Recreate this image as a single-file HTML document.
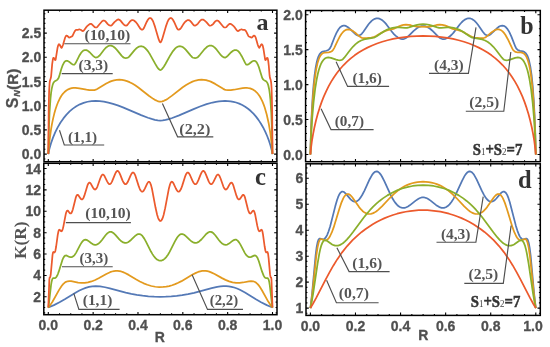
<!DOCTYPE html>
<html><head><meta charset="utf-8"><style>
html,body{margin:0;padding:0;background:#fff;}
svg{display:block;}
.tl{font-family:"Liberation Sans",Arial,sans-serif;font-weight:bold;font-size:14px;fill:#505050;stroke:#505050;stroke-width:0.3px;}
.yl{font-size:15px;}
.subs{font-size:9px;font-style:italic;}
.cl{font-family:"Liberation Serif","Times New Roman",serif;font-weight:bold;font-size:13.6px;fill:#555;}
.pl{font-family:"Liberation Serif","Times New Roman",serif;font-weight:bold;font-size:24px;fill:#333;}
.ss{font-family:"Liberation Serif","Times New Roman",serif;font-weight:bold;font-size:16.5px;fill:#333;stroke:#333;stroke-width:0.5px;}
.sub{font-size:10px;font-weight:normal;stroke:none;fill:#444;}
.kl{font-family:"Liberation Serif","Times New Roman",serif;font-weight:bold;font-size:16px;fill:#555;}
</style></head><body>
<svg width="550" height="347" viewBox="0 0 550 347">
<rect width="550" height="347" fill="#fff"/>
<clipPath id="clipa"><rect x="44.0" y="10.2" width="232.89999999999998" height="151.5"/></clipPath>
<polyline clip-path="url(#clipa)" points="48.30,154.10 49.29,149.24 50.95,143.41 53.00,137.61 55.30,132.20 57.81,127.18 60.53,122.54 63.41,118.38 66.49,114.60 69.58,111.43 72.88,108.62 76.32,106.25 79.91,104.32 83.64,102.83 87.52,101.76 91.54,101.13 95.70,100.93 99.72,101.11 103.88,101.64 108.33,102.55 113.00,103.82 117.73,105.39 122.97,107.37 141.13,115.10 147.95,117.75 151.61,118.95 154.84,119.80 157.78,120.35 160.29,120.55 162.66,120.39 165.53,119.90 168.69,119.09 172.21,117.97 179.10,115.34 193.59,109.11 199.98,106.53 206.58,104.20 212.54,102.53 215.84,101.83 219.00,101.33 222.08,101.03 225.03,100.93 227.90,101.02 230.70,101.31 233.42,101.80 236.08,102.48 239.24,103.60 242.25,105.00 245.19,106.70 248.06,108.73 250.79,111.03 253.45,113.66 256.03,116.63 258.47,119.86 260.84,123.45 263.14,127.44 265.22,131.58 267.15,135.99 268.94,140.67 270.48,145.45 271.76,150.27 272.50,154.10" fill="none" stroke="#5479b6" stroke-width="1.75" stroke-linejoin="round"/>
<polyline clip-path="url(#clipa)" points="48.30,154.10 48.68,148.61 49.33,142.01 51.04,129.42 52.04,123.68 53.14,118.36 54.29,113.61 55.58,109.07 56.87,105.23 58.24,101.80 59.67,98.78 61.25,96.06 62.83,93.86 64.55,91.97 66.35,90.48 68.29,89.33 69.94,88.66 71.66,88.21 73.45,87.97 75.46,87.93 79.34,88.32 86.51,89.67 89.31,90.08 92.11,90.24 94.48,90.04 95.77,89.71 97.21,89.05 106.25,83.53 108.91,82.16 111.35,81.14 114.00,80.31 116.66,79.81 119.31,79.66 121.97,79.84 124.48,80.33 126.99,81.09 129.58,82.16 132.30,83.57 135.17,85.32 138.33,87.51 149.17,95.95 153.26,98.84 155.48,100.14 157.49,101.07 159.29,101.60 160.72,101.71 162.23,101.43 163.88,100.83 165.75,99.91 167.83,98.65 171.70,95.89 182.76,87.30 186.13,85.00 189.21,83.17 192.44,81.62 195.60,80.52 198.62,79.87 201.63,79.66 203.86,79.78 206.15,80.16 208.45,80.79 210.75,81.65 215.19,83.90 223.23,88.85 224.74,89.60 225.82,89.94 228.11,90.23 230.84,90.14 233.85,89.74 242.54,88.16 245.19,87.94 247.49,87.99 250.15,88.44 252.51,89.33 254.74,90.69 256.82,92.55 258.26,94.23 259.69,96.28 260.98,98.51 262.27,101.15 263.49,104.08 264.64,107.28 266.72,114.45 268.67,123.21 270.33,133.08 271.69,144.10 272.50,154.10" fill="none" stroke="#e39a1e" stroke-width="1.75" stroke-linejoin="round"/>
<polyline clip-path="url(#clipa)" points="48.30,154.10 48.77,131.82 49.56,112.21 50.54,98.04 51.12,92.70 51.75,88.61 52.65,84.84 53.14,83.51 53.72,82.41 54.79,81.23 56.66,80.18 57.38,79.65 58.02,78.92 58.60,77.95 59.24,76.16 61.32,68.99 62.47,65.71 63.91,62.79 64.63,61.84 65.34,61.19 66.49,60.75 67.71,60.95 69.00,61.68 71.52,63.72 72.52,64.39 73.52,64.74 74.39,64.59 74.89,64.14 75.61,63.03 79.12,56.07 80.99,53.02 81.99,51.78 83.00,50.87 84.00,50.28 85.01,50.01 86.37,50.13 87.88,50.83 89.67,52.26 93.12,55.81 94.41,56.95 95.63,57.60 96.71,57.48 98.21,56.67 99.86,55.22 104.03,49.77 106.18,47.47 108.12,46.13 109.12,45.75 110.05,45.60 111.20,45.68 112.35,46.04 113.57,46.73 114.79,47.69 117.09,50.10 121.54,55.65 123.04,57.13 123.91,57.61 124.84,57.91 125.84,58.03 126.85,57.94 128.14,57.47 129.22,56.60 134.38,50.38 136.82,47.97 138.04,47.11 139.19,46.56 140.34,46.27 141.42,46.24 142.78,46.57 144.22,47.34 145.65,48.54 147.09,50.14 148.52,52.10 150.10,54.59 155.27,63.92 157.13,66.99 158.14,68.36 159.00,69.29 159.79,69.87 160.51,70.04 161.15,69.79 161.94,69.15 163.81,66.77 165.60,63.79 170.34,55.20 173.00,51.08 175.29,48.41 176.44,47.44 177.52,46.79 178.88,46.32 180.24,46.24 181.61,46.56 183.04,47.29 184.41,48.34 185.91,49.82 190.51,55.41 191.94,56.94 192.59,57.43 193.31,57.76 194.17,57.98 195.03,58.03 195.96,57.91 196.82,57.64 197.61,57.23 198.26,56.71 199.76,55.06 204.07,49.68 206.51,47.26 207.52,46.54 208.52,46.01 209.53,45.69 210.46,45.59 211.46,45.69 212.47,46.03 213.47,46.58 214.55,47.40 216.70,49.68 220.94,55.22 222.44,56.56 223.95,57.43 225.10,57.61 226.32,57.00 227.68,55.81 231.20,52.19 233.07,50.74 234.57,50.09 236.01,50.04 237.01,50.38 237.95,50.98 238.88,51.86 239.88,53.12 241.75,56.20 245.12,62.90 245.84,64.04 246.34,64.55 247.20,64.75 248.21,64.43 249.21,63.77 252.08,61.48 253.02,60.98 253.81,60.76 254.67,60.82 255.53,61.24 256.39,62.09 257.18,63.27 258.11,65.19 259.05,67.67 262.13,77.80 262.71,78.82 263.35,79.58 264.07,80.14 266.08,81.29 267.15,82.52 267.73,83.67 268.26,85.21 269.20,89.50 269.81,93.79 270.37,99.28 271.31,113.51 272.05,132.58 272.50,154.10" fill="none" stroke="#8aaf2c" stroke-width="1.75" stroke-linejoin="round"/>
<polyline clip-path="url(#clipa)" points="48.30,154.10 48.75,105.56 49.11,91.41 49.56,83.46 49.94,80.69 50.79,78.06 51.12,76.31 52.18,64.12 52.86,59.30 53.21,58.14 53.43,57.84 53.65,57.77 54.08,58.18 55.08,59.95 55.37,60.08 55.65,59.68 57.45,48.32 58.02,45.87 58.60,44.54 59.03,44.22 59.53,44.48 61.18,47.47 61.47,47.78 61.68,47.76 62.26,46.81 63.05,44.72 65.06,37.76 65.63,36.50 66.13,35.85 66.64,35.61 67.14,35.73 67.64,36.13 68.72,37.36 69.08,37.55 69.79,37.39 71.73,36.56 72.52,35.82 74.03,32.58 74.82,31.17 75.53,30.32 76.32,29.86 77.76,29.84 78.91,29.47 79.70,29.45 80.63,29.80 82.42,31.00 82.78,31.10 83.14,31.00 84.22,30.06 85.87,27.65 86.87,26.46 89.24,24.40 90.18,23.88 91.04,23.87 91.90,24.31 94.70,27.22 95.49,27.48 96.42,27.44 96.99,27.20 97.42,26.80 99.50,24.21 102.09,21.29 103.02,20.64 103.88,20.49 104.67,20.74 105.46,21.33 107.76,24.12 108.40,24.70 109.77,25.51 110.84,25.73 111.85,25.13 114.43,22.16 116.51,20.29 117.52,19.64 118.45,19.46 119.38,19.73 120.32,20.42 122.90,23.64 123.98,24.66 125.20,25.49 126.06,25.71 126.70,25.49 127.35,24.99 129.65,21.95 130.72,20.81 131.73,20.18 132.73,20.03 133.95,20.51 135.75,21.98 137.18,23.77 140.20,28.48 141.27,29.44 141.78,29.67 142.28,29.73 143.07,29.29 143.79,28.31 146.66,21.98 147.88,19.76 149.02,18.42 149.60,18.09 150.10,18.00 150.89,18.24 151.68,18.96 152.47,20.15 153.33,21.95 154.98,26.65 158.64,39.18 159.57,41.48 160.01,42.16 160.36,42.41 160.72,42.23 161.15,41.62 162.09,39.39 165.82,26.65 167.47,21.95 168.26,20.28 169.05,19.04 169.84,18.28 170.63,18.00 171.20,18.09 171.78,18.42 172.92,19.76 174.14,21.98 177.01,28.31 177.66,29.22 178.45,29.72 178.88,29.71 179.38,29.52 180.39,28.72 181.18,27.69 183.55,23.88 184.62,22.45 186.49,20.76 187.78,20.08 188.86,20.11 189.93,20.69 191.08,21.86 193.52,25.06 194.17,25.53 194.81,25.71 195.75,25.41 197.04,24.48 197.97,23.55 200.34,20.56 201.20,19.85 201.99,19.51 203.07,19.56 204.14,20.17 206.37,22.16 208.95,25.13 209.53,25.56 210.03,25.74 211.03,25.51 212.25,24.81 213.04,24.12 214.62,22.10 215.48,21.20 216.34,20.64 217.20,20.49 217.99,20.75 218.85,21.42 223.30,26.72 224.09,27.35 225.10,27.50 226.03,27.26 226.53,26.86 228.11,25.03 228.90,24.31 229.76,23.87 230.62,23.88 231.56,24.40 233.93,26.46 234.93,27.65 236.58,30.06 237.66,31.00 238.02,31.10 238.38,31.00 240.17,29.80 241.10,29.45 241.89,29.47 243.04,29.84 244.48,29.86 245.27,30.32 245.98,31.17 246.77,32.58 248.21,35.69 248.50,36.11 249.00,36.52 251.01,37.39 251.72,37.55 252.08,37.36 253.16,36.13 253.73,35.69 254.31,35.64 254.81,36.00 255.31,36.77 255.82,37.95 257.75,44.72 258.47,46.65 259.05,47.70 259.26,47.81 259.62,47.47 260.84,45.10 261.34,44.41 261.84,44.24 262.35,44.77 262.85,46.11 263.42,48.70 265.15,59.68 265.36,60.04 265.65,60.02 266.80,58.07 267.08,57.80 267.30,57.79 267.59,58.14 267.80,58.73 268.24,60.96 268.76,65.50 269.63,75.97 269.97,77.89 270.71,80.07 271.02,81.56 271.33,84.52 271.58,88.70 271.89,98.11 272.16,112.58 272.50,154.10" fill="none" stroke="#ec5a2d" stroke-width="1.75" stroke-linejoin="round"/>
<rect x="44.0" y="10.2" width="232.90" height="151.50" fill="none" stroke="#000" stroke-width="1.5"/>
<path d="M48.30,161.7v-2.8M48.30,10.2v2.8M59.51,161.7v-1.4M59.51,10.2v1.4M70.72,161.7v-1.4M70.72,10.2v1.4M81.93,161.7v-1.4M81.93,10.2v1.4M93.14,161.7v-2.8M93.14,10.2v2.8M104.35,161.7v-1.4M104.35,10.2v1.4M115.56,161.7v-1.4M115.56,10.2v1.4M126.77,161.7v-1.4M126.77,10.2v1.4M137.98,161.7v-2.8M137.98,10.2v2.8M149.19,161.7v-1.4M149.19,10.2v1.4M160.40,161.7v-1.4M160.40,10.2v1.4M171.61,161.7v-1.4M171.61,10.2v1.4M182.82,161.7v-2.8M182.82,10.2v2.8M194.03,161.7v-1.4M194.03,10.2v1.4M205.24,161.7v-1.4M205.24,10.2v1.4M216.45,161.7v-1.4M216.45,10.2v1.4M227.66,161.7v-2.8M227.66,10.2v2.8M238.87,161.7v-1.4M238.87,10.2v1.4M250.08,161.7v-1.4M250.08,10.2v1.4M261.29,161.7v-1.4M261.29,10.2v1.4M272.50,161.7v-2.8M272.50,10.2v2.8M44.0,158.94h1.4M276.9,158.94h-1.4M44.0,154.10h2.8M276.9,154.10h-2.8M44.0,149.26h1.4M276.9,149.26h-1.4M44.0,144.42h1.4M276.9,144.42h-1.4M44.0,139.58h1.4M276.9,139.58h-1.4M44.0,134.74h1.4M276.9,134.74h-1.4M44.0,129.90h2.8M276.9,129.90h-2.8M44.0,125.06h1.4M276.9,125.06h-1.4M44.0,120.22h1.4M276.9,120.22h-1.4M44.0,115.38h1.4M276.9,115.38h-1.4M44.0,110.54h1.4M276.9,110.54h-1.4M44.0,105.70h2.8M276.9,105.70h-2.8M44.0,100.86h1.4M276.9,100.86h-1.4M44.0,96.02h1.4M276.9,96.02h-1.4M44.0,91.18h1.4M276.9,91.18h-1.4M44.0,86.34h1.4M276.9,86.34h-1.4M44.0,81.50h2.8M276.9,81.50h-2.8M44.0,76.66h1.4M276.9,76.66h-1.4M44.0,71.82h1.4M276.9,71.82h-1.4M44.0,66.98h1.4M276.9,66.98h-1.4M44.0,62.14h1.4M276.9,62.14h-1.4M44.0,57.30h2.8M276.9,57.30h-2.8M44.0,52.46h1.4M276.9,52.46h-1.4M44.0,47.62h1.4M276.9,47.62h-1.4M44.0,42.78h1.4M276.9,42.78h-1.4M44.0,37.94h1.4M276.9,37.94h-1.4M44.0,33.10h2.8M276.9,33.10h-2.8M44.0,28.26h1.4M276.9,28.26h-1.4M44.0,23.42h1.4M276.9,23.42h-1.4M44.0,18.58h1.4M276.9,18.58h-1.4M44.0,13.74h1.4M276.9,13.74h-1.4" stroke="#000" stroke-width="1.1" fill="none"/>
<text x="41.20" y="159.10" class="tl" text-anchor="end">0.0</text>
<text x="41.20" y="134.90" class="tl" text-anchor="end">0.5</text>
<text x="41.20" y="110.70" class="tl" text-anchor="end">1.0</text>
<text x="41.20" y="86.50" class="tl" text-anchor="end">1.5</text>
<text x="41.20" y="62.30" class="tl" text-anchor="end">2.0</text>
<text x="41.20" y="38.10" class="tl" text-anchor="end">2.5</text>
<clipPath id="clipb"><rect x="305.6" y="10.5" width="234.69999999999993" height="151.2"/></clipPath>
<polyline clip-path="url(#clipb)" points="310.40,154.50 310.74,139.20 311.28,123.27 311.96,108.55 312.72,95.84 313.58,84.94 314.55,75.60 315.63,67.90 316.78,62.03 317.65,58.82 318.52,56.40 319.53,54.38 320.61,52.94 321.62,52.09 322.70,51.54 326.38,50.74 327.75,50.23 328.98,49.39 330.06,48.13 331.07,46.11 334.53,37.25 336.48,32.88 338.57,29.28 339.58,27.98 340.59,26.97 341.97,26.06 343.34,25.64 344.71,25.67 346.22,26.16 347.59,26.96 349.11,28.13 354.09,32.95 355.89,34.49 357.62,35.46 358.27,35.61 358.99,35.54 360.58,34.81 361.95,33.56 363.39,31.68 368.37,24.55 370.03,22.53 371.62,20.92 373.21,19.67 374.79,18.82 376.38,18.38 377.97,18.35 379.27,18.64 380.57,19.19 381.94,20.03 383.31,21.14 384.90,22.70 386.63,24.68 392.33,32.24 394.13,34.35 395.79,35.84 397.59,37.17 399.33,38.19 400.99,38.87 402.21,39.14 403.22,39.12 404.52,38.76 405.96,38.07 407.91,36.62 413.68,30.88 416.79,28.31 418.45,27.28 420.03,26.56 421.62,26.14 423.14,26.00 424.51,26.12 425.88,26.46 427.32,27.06 428.76,27.87 430.35,29.01 432.08,30.48 437.49,35.87 439.23,37.41 440.38,38.15 441.61,38.73 442.76,39.08 443.77,39.16 445.50,38.78 447.45,37.88 449.62,36.46 451.64,34.77 453.58,32.61 459.93,24.25 461.74,22.24 463.40,20.70 464.84,19.64 466.21,18.91 467.58,18.46 468.95,18.31 470.40,18.49 471.91,19.04 473.35,19.92 474.87,21.18 476.38,22.77 477.97,24.74 482.81,31.68 484.25,33.56 485.62,34.81 487.21,35.54 487.93,35.61 488.58,35.46 490.31,34.49 492.11,32.95 496.95,28.26 498.39,27.11 499.69,26.30 501.06,25.77 502.36,25.60 503.59,25.80 504.81,26.38 505.97,27.30 507.12,28.59 508.20,30.15 509.36,32.17 511.52,36.89 515.27,46.45 515.85,47.66 516.43,48.53 517.51,49.63 518.81,50.40 520.04,50.80 522.99,51.38 524.51,52.04 525.95,53.35 527.25,55.45 528.12,57.52 528.91,60.05 530.35,66.64 531.63,75.42 532.76,86.48 533.77,100.30 534.65,116.87 535.37,136.14 535.80,154.50" fill="none" stroke="#5479b6" stroke-width="1.75" stroke-linejoin="round"/>
<polyline clip-path="url(#clipb)" points="310.40,154.50 310.76,140.07 311.39,123.69 312.16,109.07 313.06,96.02 314.03,85.28 315.12,76.07 316.35,68.45 317.65,62.68 318.59,59.63 319.67,57.03 320.82,55.09 322.12,53.70 323.21,53.01 324.50,52.58 328.76,52.30 330.35,51.98 331.79,51.26 332.95,50.18 334.17,48.11 337.71,40.54 339.51,37.05 341.39,34.03 343.26,31.76 344.85,30.43 346.44,29.64 348.10,29.34 349.83,29.57 351.49,30.21 353.37,31.35 355.17,32.75 359.35,36.34 361.23,37.62 362.10,37.93 363.32,38.13 366.50,38.10 371.33,37.53 374.43,36.81 376.02,36.03 381.29,32.84 384.39,31.34 387.64,30.25 393.55,28.88 399.69,26.05 401.63,25.37 403.44,24.94 405.96,24.68 408.63,24.83 410.80,25.23 415.42,26.49 416.93,26.74 428.04,26.79 430.28,26.60 436.63,24.98 439.88,24.68 442.26,24.86 444.71,25.42 447.38,26.41 452.57,28.86 458.27,30.17 461.16,31.08 464.55,32.64 470.32,36.11 471.91,36.86 474.80,37.52 479.27,38.06 482.52,38.16 483.74,38.01 484.68,37.75 486.41,36.67 491.75,32.17 494.42,30.36 495.87,29.72 497.24,29.39 498.53,29.37 499.83,29.66 501.20,30.34 502.58,31.41 503.95,32.89 505.32,34.77 507.84,39.23 512.32,48.68 512.97,49.80 513.69,50.66 514.91,51.57 516.36,52.12 517.73,52.33 520.97,52.47 522.56,52.83 524.08,53.70 525.38,55.09 526.46,56.88 527.40,59.04 528.33,61.91 529.20,65.32 529.99,69.23 530.79,74.06 532.13,84.85 533.37,98.96 534.43,115.87 535.28,135.40 535.80,154.50" fill="none" stroke="#e39a1e" stroke-width="1.75" stroke-linejoin="round"/>
<polyline clip-path="url(#clipb)" points="310.40,154.50 311.08,136.72 312.18,118.50 313.53,102.62 315.12,89.07 316.86,78.45 317.79,74.02 318.80,70.09 319.89,66.68 320.97,63.97 322.12,61.74 323.42,59.91 324.58,58.78 325.73,58.03 326.96,57.59 328.33,57.43 329.55,57.52 331.00,57.83 336.12,59.62 338.21,60.16 340.23,60.26 341.97,59.81 342.90,59.19 344.27,57.72 349.97,50.23 352.86,46.81 355.60,44.12 358.34,42.03 361.09,40.51 363.97,39.45 366.79,38.82 372.56,37.98 374.79,37.34 376.67,36.26 384.10,31.23 386.70,29.82 389.22,28.76 392.47,27.85 395.86,27.44 399.11,27.45 405.10,27.90 407.05,27.85 408.92,27.40 414.33,25.60 417.22,24.80 420.18,24.27 423.06,24.09 425.95,24.26 428.98,24.80 431.87,25.60 437.28,27.40 439.15,27.85 441.10,27.90 447.09,27.45 450.34,27.44 453.73,27.85 456.98,28.76 459.50,29.82 462.10,31.23 469.53,36.26 471.41,37.34 473.64,37.98 479.41,38.82 482.23,39.45 485.11,40.51 487.86,42.03 490.60,44.12 493.34,46.81 496.23,50.23 501.93,57.72 503.30,59.19 504.23,59.81 505.97,60.26 508.06,60.14 510.08,59.62 515.13,57.85 516.57,57.53 517.80,57.43 519.17,57.57 520.40,58.00 521.62,58.78 522.71,59.83 524.00,61.62 525.16,63.82 526.31,66.68 527.40,70.09 528.41,74.02 529.34,78.45 531.08,89.07 532.67,102.62 534.02,118.50 535.12,136.72 535.80,154.50" fill="none" stroke="#8aaf2c" stroke-width="1.75" stroke-linejoin="round"/>
<polyline clip-path="url(#clipb)" points="310.40,154.50 310.94,148.52 311.87,141.45 313.04,134.31 314.43,127.23 315.99,120.51 317.72,114.03 319.60,107.90 321.69,101.89 323.85,96.39 326.24,91.03 328.69,86.13 331.36,81.37 334.17,76.91 337.13,72.74 340.31,68.75 343.62,65.04 347.09,61.60 350.77,58.36 354.66,55.33 358.70,52.56 362.96,49.98 367.43,47.62 372.12,45.47 377.03,43.53 382.23,41.77 387.57,40.26 393.12,38.96 398.82,37.90 404.74,37.05 410.80,36.45 416.93,36.08 423.06,35.96 429.20,36.08 435.33,36.44 441.39,37.05 447.31,37.89 453.08,38.96 458.63,40.26 463.97,41.77 469.17,43.53 474.08,45.47 478.77,47.62 483.24,49.98 487.50,52.56 491.54,55.33 495.43,58.36 499.11,61.60 502.58,65.04 505.89,68.75 509.07,72.74 512.03,76.91 514.84,81.37 517.51,86.13 519.96,91.03 522.35,96.39 524.51,101.89 526.60,107.90 528.48,114.03 530.21,120.51 531.77,127.23 533.16,134.31 534.33,141.45 535.26,148.52 535.80,154.50" fill="none" stroke="#ec5a2d" stroke-width="1.75" stroke-linejoin="round"/>
<rect x="305.6" y="10.5" width="234.70" height="151.20" fill="none" stroke="#000" stroke-width="1.5"/>
<path d="M310.40,161.7v-2.8M310.40,10.5v2.8M321.67,161.7v-1.4M321.67,10.5v1.4M332.94,161.7v-1.4M332.94,10.5v1.4M344.21,161.7v-1.4M344.21,10.5v1.4M355.48,161.7v-2.8M355.48,10.5v2.8M366.75,161.7v-1.4M366.75,10.5v1.4M378.02,161.7v-1.4M378.02,10.5v1.4M389.29,161.7v-1.4M389.29,10.5v1.4M400.56,161.7v-2.8M400.56,10.5v2.8M411.83,161.7v-1.4M411.83,10.5v1.4M423.10,161.7v-1.4M423.10,10.5v1.4M434.37,161.7v-1.4M434.37,10.5v1.4M445.64,161.7v-2.8M445.64,10.5v2.8M456.91,161.7v-1.4M456.91,10.5v1.4M468.18,161.7v-1.4M468.18,10.5v1.4M479.45,161.7v-1.4M479.45,10.5v1.4M490.72,161.7v-2.8M490.72,10.5v2.8M501.99,161.7v-1.4M501.99,10.5v1.4M513.26,161.7v-1.4M513.26,10.5v1.4M524.53,161.7v-1.4M524.53,10.5v1.4M535.80,161.7v-2.8M535.80,10.5v2.8M305.6,154.50h2.8M540.3,154.50h-2.8M305.6,147.51h1.4M540.3,147.51h-1.4M305.6,140.52h1.4M540.3,140.52h-1.4M305.6,133.53h1.4M540.3,133.53h-1.4M305.6,126.54h1.4M540.3,126.54h-1.4M305.6,119.55h2.8M540.3,119.55h-2.8M305.6,112.56h1.4M540.3,112.56h-1.4M305.6,105.57h1.4M540.3,105.57h-1.4M305.6,98.58h1.4M540.3,98.58h-1.4M305.6,91.59h1.4M540.3,91.59h-1.4M305.6,84.60h2.8M540.3,84.60h-2.8M305.6,77.61h1.4M540.3,77.61h-1.4M305.6,70.62h1.4M540.3,70.62h-1.4M305.6,63.63h1.4M540.3,63.63h-1.4M305.6,56.64h1.4M540.3,56.64h-1.4M305.6,49.65h2.8M540.3,49.65h-2.8M305.6,42.66h1.4M540.3,42.66h-1.4M305.6,35.67h1.4M540.3,35.67h-1.4M305.6,28.68h1.4M540.3,28.68h-1.4M305.6,21.69h1.4M540.3,21.69h-1.4M305.6,14.70h2.8M540.3,14.70h-2.8" stroke="#000" stroke-width="1.1" fill="none"/>
<text x="302.80" y="159.50" class="tl" text-anchor="end">0.0</text>
<text x="302.80" y="124.55" class="tl" text-anchor="end">0.5</text>
<text x="302.80" y="89.60" class="tl" text-anchor="end">1.0</text>
<text x="302.80" y="54.65" class="tl" text-anchor="end">1.5</text>
<text x="302.80" y="19.70" class="tl" text-anchor="end">2.0</text>
<clipPath id="clipc"><rect x="43.8" y="163.3" width="233.2" height="151.39999999999998"/></clipPath>
<polyline clip-path="url(#clipc)" points="48.30,307.51 53.93,305.14 59.53,302.33 64.77,299.34 76.32,292.26 79.41,290.56 82.21,289.19 85.65,287.82 88.96,286.88 92.26,286.32 95.70,286.13 100.08,286.40 105.10,287.26 109.84,288.39 125.70,292.62 131.30,293.87 136.75,294.88 142.57,295.73 148.38,296.33 154.26,296.69 160.15,296.82 165.75,296.72 171.27,296.42 176.73,295.90 182.18,295.18 188.07,294.16 194.10,292.86 211.68,288.21 217.20,286.95 220.43,286.44 223.38,286.18 226.18,286.15 228.83,286.35 231.49,286.80 234.21,287.52 237.01,288.52 239.88,289.80 244.98,292.55 255.89,299.25 261.05,302.22 266.80,305.11 272.50,307.51" fill="none" stroke="#5479b6" stroke-width="1.75" stroke-linejoin="round"/>
<polyline clip-path="url(#clipc)" points="48.30,307.51 50.39,304.87 52.47,301.74 59.10,289.87 61.61,285.96 63.12,284.13 64.55,282.81 66.06,281.86 67.64,281.30 69.29,281.08 71.16,281.18 78.12,282.52 81.49,282.91 84.72,282.88 87.95,282.42 91.47,281.45 95.20,279.94 98.64,278.20 106.32,273.93 110.05,272.20 112.06,271.52 113.93,271.08 115.80,270.86 117.59,270.86 119.38,271.06 121.18,271.47 123.04,272.09 125.05,272.95 128.71,274.88 136.32,279.47 139.84,281.45 143.64,283.32 147.30,284.78 151.32,285.99 155.27,286.75 159.22,287.08 163.23,286.99 166.25,286.64 169.19,286.06 172.13,285.24 175.15,284.16 178.23,282.82 181.54,281.14 192.16,274.84 195.96,272.85 198.11,271.96 200.20,271.32 202.13,270.96 204.07,270.83 205.72,270.92 207.44,271.19 209.24,271.67 211.10,272.35 214.62,274.01 222.01,278.13 225.46,279.87 229.12,281.38 232.56,282.36 236.08,282.88 239.67,282.89 242.90,282.49 248.85,281.29 251.01,281.08 253.16,281.30 255.03,282.01 256.25,282.81 257.39,283.84 258.54,285.13 259.76,286.77 261.92,290.25 268.24,301.59 270.39,304.84 272.50,307.51" fill="none" stroke="#e39a1e" stroke-width="1.75" stroke-linejoin="round"/>
<polyline clip-path="url(#clipc)" points="48.30,307.51 49.20,301.27 51.01,285.42 51.53,282.15 52.04,279.96 52.47,278.90 52.93,278.32 53.36,278.12 54.72,278.10 55.44,277.85 56.30,277.04 57.09,275.77 57.88,274.02 58.74,271.65 62.33,260.17 63.26,257.97 64.20,256.47 65.06,255.71 65.92,255.48 66.92,255.67 69.43,256.91 70.65,257.24 72.02,257.08 73.31,256.33 74.60,254.98 76.04,252.87 80.20,244.93 81.56,242.62 82.85,240.96 84.07,240.00 85.29,239.64 86.59,239.86 88.02,240.65 91.40,243.31 93.05,244.34 93.98,244.70 94.84,244.87 95.70,244.87 96.56,244.70 98.28,243.83 100.15,242.17 101.80,240.22 105.53,235.25 107.26,233.37 108.91,232.20 109.70,231.92 110.49,231.82 111.27,231.92 112.06,232.19 113.79,233.35 115.37,234.92 119.31,239.40 121.39,241.31 123.19,242.39 124.91,242.84 125.92,242.84 126.92,242.62 128.00,242.19 129.07,241.54 131.01,239.97 135.17,235.90 137.11,234.50 138.04,234.13 138.98,234.00 139.84,234.13 140.70,234.50 141.56,235.12 142.42,235.99 144.29,238.62 146.08,241.85 150.96,251.52 152.47,254.12 153.91,256.25 155.48,258.14 156.99,259.47 158.57,260.36 160.08,260.71 161.66,260.55 163.23,259.86 164.81,258.63 166.46,256.81 167.97,254.68 169.62,251.91 174.93,241.44 176.87,238.04 177.95,236.51 179.02,235.32 180.03,234.54 181.03,234.11 181.75,234.00 182.54,234.08 184.19,234.80 185.84,236.09 189.50,239.70 191.22,241.18 193.09,242.32 194.88,242.84 195.96,242.84 197.04,242.61 198.11,242.14 199.19,241.47 201.42,239.48 205.36,234.99 206.87,233.48 208.52,232.30 209.31,231.97 210.10,231.83 210.89,231.87 211.75,232.13 212.61,232.62 213.47,233.30 215.27,235.25 219.00,240.22 220.65,242.17 222.52,243.83 224.24,244.70 225.74,244.89 227.25,244.55 229.05,243.57 232.42,240.91 233.78,240.05 235.22,239.64 235.94,239.70 236.58,239.92 237.87,240.89 239.24,242.62 240.60,244.93 244.76,252.87 246.13,254.89 247.42,256.27 248.78,257.08 250.15,257.24 251.37,256.91 253.95,255.65 255.10,255.49 255.67,255.68 256.25,256.09 257.39,257.70 258.76,260.97 262.06,271.65 263.64,275.63 264.50,277.04 265.29,277.80 266.08,278.10 267.44,278.12 267.94,278.38 268.37,278.99 268.78,280.04 269.27,282.15 269.79,285.42 271.60,301.27 272.50,307.51" fill="none" stroke="#8aaf2c" stroke-width="1.75" stroke-linejoin="round"/>
<polyline clip-path="url(#clipc)" points="48.30,307.51 49.33,279.60 49.58,277.79 49.73,277.46 50.12,277.20 50.30,276.81 50.77,274.28 52.51,255.09 52.86,253.09 53.14,252.25 53.50,252.00 54.29,252.50 54.65,252.41 55.08,251.67 55.44,250.46 56.16,246.50 57.74,234.83 58.53,230.98 58.88,230.10 59.31,229.72 59.75,229.87 60.75,230.98 61.25,231.28 61.54,231.24 61.83,231.02 62.33,230.16 62.83,228.69 63.41,226.34 65.70,214.35 66.28,212.26 66.78,211.11 67.28,210.60 67.86,210.69 68.36,211.20 69.65,212.97 70.30,213.48 70.94,213.42 71.52,212.81 72.16,211.47 72.88,209.24 75.75,197.69 76.47,195.84 77.11,194.95 77.69,194.78 78.33,195.18 80.49,198.45 81.28,199.29 81.71,199.48 82.07,199.47 82.85,198.89 83.57,197.68 84.36,195.69 87.45,185.45 88.17,183.82 88.81,182.93 89.17,182.69 89.53,182.64 90.25,183.03 91.04,184.07 92.90,187.52 93.76,188.79 94.70,189.50 95.13,189.54 95.56,189.38 96.49,188.38 97.42,186.54 100.22,178.53 101.16,176.29 102.09,174.89 102.52,174.59 102.95,174.52 103.74,174.96 104.53,176.03 107.11,181.42 108.12,183.11 109.12,184.05 109.62,184.18 110.05,184.10 110.99,183.33 111.99,181.67 114.94,174.32 115.87,172.37 116.73,171.22 117.16,170.94 117.52,170.87 117.95,170.98 118.45,171.38 119.38,172.78 120.32,174.85 122.47,180.35 123.62,182.65 124.70,183.92 125.27,184.18 125.77,184.16 126.70,183.53 127.71,182.06 130.65,175.41 131.59,173.67 132.52,172.66 133.02,172.50 133.45,172.61 133.88,172.94 134.38,173.59 135.39,175.71 138.55,185.63 139.62,188.54 140.63,190.49 141.56,191.48 142.14,191.68 142.71,191.56 143.28,191.13 143.86,190.43 144.86,188.66 147.16,183.64 148.16,182.13 148.67,181.77 149.17,181.76 149.67,182.12 150.10,182.75 151.03,185.13 152.04,189.09 155.56,207.80 157.13,214.79 158.00,217.60 158.86,219.59 159.72,220.73 160.15,220.97 160.51,221.00 161.30,220.53 162.09,219.32 162.88,217.40 163.67,214.79 165.17,208.16 168.90,188.45 169.98,184.46 170.56,183.02 171.06,182.20 171.49,181.82 171.92,181.72 172.35,181.89 172.78,182.29 173.71,183.78 175.87,188.51 176.87,190.33 177.44,191.06 177.95,191.48 178.45,191.67 178.95,191.62 179.45,191.33 180.03,190.70 181.11,188.71 182.25,185.63 185.27,176.09 186.20,173.96 187.06,172.80 187.49,172.55 187.99,172.53 188.50,172.81 189.00,173.36 190.08,175.26 192.30,180.46 193.31,182.44 194.38,183.81 194.96,184.14 195.46,184.19 195.89,184.05 196.39,183.68 197.32,182.41 198.40,180.18 200.48,174.85 201.42,172.78 202.35,171.38 202.85,170.98 203.28,170.87 203.64,170.94 204.07,171.22 204.93,172.37 205.86,174.32 208.81,181.67 209.81,183.33 210.75,184.10 211.18,184.18 211.68,184.05 212.68,183.11 213.69,181.42 216.27,176.03 217.06,174.96 217.85,174.52 218.28,174.59 218.71,174.89 219.64,176.29 220.58,178.53 223.38,186.54 224.31,188.38 225.24,189.38 225.60,189.53 226.03,189.52 226.82,189.02 227.75,187.76 229.55,184.44 230.34,183.26 231.13,182.67 231.56,182.67 231.92,182.87 232.63,183.82 233.35,185.45 236.44,195.69 237.23,197.68 237.95,198.89 238.73,199.47 239.09,199.48 239.52,199.29 240.31,198.45 242.47,195.18 243.11,194.78 243.69,194.95 244.33,195.84 245.05,197.69 247.92,209.24 248.64,211.47 249.28,212.81 249.93,213.46 250.29,213.53 250.65,213.41 251.29,212.80 252.59,211.02 253.16,210.59 253.66,210.68 254.16,211.37 254.67,212.71 255.17,214.66 257.25,225.65 258.18,229.40 258.76,230.73 259.33,231.27 259.91,231.10 260.91,230.00 261.34,229.72 261.77,229.90 262.13,230.56 262.56,232.08 262.99,234.38 264.64,246.50 265.43,250.74 265.79,251.85 266.22,252.46 266.58,252.47 267.30,252.00 267.59,252.15 268.06,253.65 268.60,257.93 270.06,274.45 270.50,276.81 270.68,277.20 271.07,277.46 271.22,277.79 271.47,279.60 272.50,307.51" fill="none" stroke="#ec5a2d" stroke-width="1.75" stroke-linejoin="round"/>
<rect x="43.8" y="163.3" width="233.20" height="151.40" fill="none" stroke="#000" stroke-width="1.5"/>
<path d="M48.30,314.7v-2.8M48.30,163.3v2.8M59.51,314.7v-1.4M59.51,163.3v1.4M70.72,314.7v-1.4M70.72,163.3v1.4M81.93,314.7v-1.4M81.93,163.3v1.4M93.14,314.7v-2.8M93.14,163.3v2.8M104.35,314.7v-1.4M104.35,163.3v1.4M115.56,314.7v-1.4M115.56,163.3v1.4M126.77,314.7v-1.4M126.77,163.3v1.4M137.98,314.7v-2.8M137.98,163.3v2.8M149.19,314.7v-1.4M149.19,163.3v1.4M160.40,314.7v-1.4M160.40,163.3v1.4M171.61,314.7v-1.4M171.61,163.3v1.4M182.82,314.7v-2.8M182.82,163.3v2.8M194.03,314.7v-1.4M194.03,163.3v1.4M205.24,314.7v-1.4M205.24,163.3v1.4M216.45,314.7v-1.4M216.45,163.3v1.4M227.66,314.7v-2.8M227.66,163.3v2.8M238.87,314.7v-1.4M238.87,163.3v1.4M250.08,314.7v-1.4M250.08,163.3v1.4M261.29,314.7v-1.4M261.29,163.3v1.4M272.50,314.7v-2.8M272.50,163.3v2.8M43.8,312.85h1.4M277.0,312.85h-1.4M43.8,307.51h1.4M277.0,307.51h-1.4M43.8,302.16h1.4M277.0,302.16h-1.4M43.8,296.82h2.8M277.0,296.82h-2.8M43.8,291.47h1.4M277.0,291.47h-1.4M43.8,286.13h1.4M277.0,286.13h-1.4M43.8,280.78h1.4M277.0,280.78h-1.4M43.8,275.44h2.8M277.0,275.44h-2.8M43.8,270.09h1.4M277.0,270.09h-1.4M43.8,264.75h1.4M277.0,264.75h-1.4M43.8,259.40h1.4M277.0,259.40h-1.4M43.8,254.06h2.8M277.0,254.06h-2.8M43.8,248.71h1.4M277.0,248.71h-1.4M43.8,243.37h1.4M277.0,243.37h-1.4M43.8,238.02h1.4M277.0,238.02h-1.4M43.8,232.68h2.8M277.0,232.68h-2.8M43.8,227.33h1.4M277.0,227.33h-1.4M43.8,221.99h1.4M277.0,221.99h-1.4M43.8,216.64h1.4M277.0,216.64h-1.4M43.8,211.30h2.8M277.0,211.30h-2.8M43.8,205.95h1.4M277.0,205.95h-1.4M43.8,200.61h1.4M277.0,200.61h-1.4M43.8,195.26h1.4M277.0,195.26h-1.4M43.8,189.92h2.8M277.0,189.92h-2.8M43.8,184.57h1.4M277.0,184.57h-1.4M43.8,179.23h1.4M277.0,179.23h-1.4M43.8,173.88h1.4M277.0,173.88h-1.4M43.8,168.54h2.8M277.0,168.54h-2.8" stroke="#000" stroke-width="1.1" fill="none"/>
<text x="41.00" y="301.82" class="tl" text-anchor="end">2</text>
<text x="41.00" y="280.44" class="tl" text-anchor="end">4</text>
<text x="41.00" y="259.06" class="tl" text-anchor="end">6</text>
<text x="41.00" y="237.68" class="tl" text-anchor="end">8</text>
<text x="41.00" y="216.30" class="tl" text-anchor="end">10</text>
<text x="41.00" y="194.92" class="tl" text-anchor="end">12</text>
<text x="41.00" y="173.54" class="tl" text-anchor="end">14</text>
<text x="48.30" y="330.4" class="tl" text-anchor="middle">0.0</text>
<text x="93.14" y="330.4" class="tl" text-anchor="middle">0.2</text>
<text x="137.98" y="330.4" class="tl" text-anchor="middle">0.4</text>
<text x="182.82" y="330.4" class="tl" text-anchor="middle">0.6</text>
<text x="227.66" y="330.4" class="tl" text-anchor="middle">0.8</text>
<text x="272.50" y="330.4" class="tl" text-anchor="middle">1.0</text>
<clipPath id="clipd"><rect x="306.0" y="163.8" width="234.29999999999995" height="151.59999999999997"/></clipPath>
<polyline clip-path="url(#clipd)" points="310.40,308.10 312.11,293.26 315.63,254.99 316.64,247.15 317.58,242.38 318.37,240.04 318.80,239.30 319.24,238.85 319.67,238.63 320.10,238.58 322.70,239.29 323.42,239.27 324.07,239.05 324.86,238.49 325.59,237.69 327.10,235.08 328.62,231.26 330.20,226.16 335.25,206.35 337.06,200.06 338.07,197.18 339.01,195.01 339.94,193.38 340.95,192.22 341.75,191.73 342.54,191.58 343.41,191.76 344.35,192.30 346.01,193.88 350.41,199.13 351.71,200.32 352.86,201.09 353.94,201.53 355.02,201.67 356.11,201.50 357.19,201.02 358.42,200.10 359.64,198.80 360.87,197.14 362.17,195.02 364.48,190.54 369.67,179.24 372.12,174.86 373.35,173.25 374.58,172.11 375.73,171.53 376.89,171.44 378.11,171.89 379.34,172.87 380.57,174.34 381.94,176.48 384.32,181.10 390.52,194.65 392.25,197.98 393.91,200.77 395.43,202.94 396.87,204.64 398.32,205.99 399.83,207.01 401.42,207.67 403.01,207.93 404.67,207.79 406.40,207.26 407.98,206.47 409.72,205.35 415.70,200.60 418.16,198.92 419.46,198.24 420.76,197.75 421.98,197.47 423.21,197.39 424.36,197.49 425.59,197.79 426.89,198.31 428.19,199.01 430.57,200.65 436.20,205.14 438.94,206.86 440.24,207.42 441.53,207.79 442.76,207.93 443.99,207.85 445.86,207.27 447.74,206.10 449.54,204.41 451.42,202.06 453.30,199.12 455.32,195.37 462.03,180.80 464.48,176.11 465.85,174.05 467.15,172.59 468.45,171.70 469.67,171.41 470.76,171.63 471.91,172.33 473.07,173.50 474.22,175.08 476.60,179.39 481.65,190.38 483.96,194.90 485.26,197.03 486.49,198.71 487.71,200.04 488.87,200.94 490.09,201.50 491.32,201.67 492.55,201.44 493.85,200.79 494.93,199.96 496.15,198.75 500.92,193.12 502.00,192.20 503.01,191.68 504.09,191.62 505.17,192.16 506.26,193.38 507.27,195.16 508.49,198.15 509.79,202.18 515.85,225.65 517.44,230.84 518.95,234.76 519.75,236.35 520.54,237.60 521.34,238.49 522.13,239.05 522.78,239.27 523.50,239.29 526.10,238.58 526.60,238.65 527.04,238.91 527.47,239.40 527.90,240.20 528.69,242.66 529.63,247.62 530.64,255.65 534.06,293.03 535.80,308.10" fill="none" stroke="#5479b6" stroke-width="1.75" stroke-linejoin="round"/>
<polyline clip-path="url(#clipd)" points="310.40,308.10 311.39,301.27 312.38,293.12 316.35,255.52 317.51,247.63 318.66,242.53 319.53,240.38 320.03,239.65 320.54,239.23 321.04,239.05 321.62,239.06 324.65,240.20 325.51,240.28 326.31,240.14 327.25,239.66 328.11,238.91 329.05,237.75 329.99,236.25 331.79,232.45 333.67,227.39 339.37,208.70 341.32,202.90 343.26,198.32 344.20,196.67 345.14,195.41 346.22,194.45 347.38,194.00 348.60,194.12 349.83,194.77 350.98,195.79 352.28,197.30 358.92,206.87 360.80,209.19 362.53,210.96 364.62,212.57 366.64,213.56 368.73,214.00 370.83,213.89 372.56,213.41 374.29,212.62 376.17,211.46 378.19,209.89 381.94,206.37 390.02,197.77 393.77,194.05 397.88,190.51 402.00,187.64 404.45,186.25 406.90,185.07 409.43,184.07 412.02,183.24 414.77,182.57 417.51,182.10 420.25,181.82 423.06,181.72 425.88,181.81 428.69,182.10 431.43,182.57 434.18,183.24 436.77,184.07 439.30,185.07 441.75,186.25 444.20,187.64 448.32,190.51 452.43,194.05 456.18,197.77 464.26,206.37 468.01,209.89 470.03,211.46 471.91,212.62 473.64,213.41 475.37,213.89 477.47,214.00 479.56,213.56 481.58,212.57 483.67,210.96 485.40,209.19 487.28,206.87 493.92,197.30 495.22,195.79 496.37,194.77 497.60,194.12 498.82,194.00 499.98,194.45 501.06,195.41 502.00,196.67 502.94,198.32 504.88,202.90 506.83,208.70 512.53,227.39 514.41,232.45 516.21,236.25 517.15,237.75 518.09,238.91 518.95,239.66 519.89,240.14 520.69,240.28 521.55,240.20 524.58,239.06 525.16,239.05 525.66,239.23 526.17,239.65 526.67,240.38 527.54,242.53 528.69,247.63 529.85,255.52 533.82,293.12 534.81,301.27 535.80,308.10" fill="none" stroke="#e39a1e" stroke-width="1.75" stroke-linejoin="round"/>
<polyline clip-path="url(#clipd)" points="310.40,308.10 311.75,301.58 313.10,293.87 317.58,263.72 319.31,253.57 320.32,248.92 321.33,245.33 322.34,242.81 323.42,241.15 324.07,240.59 324.72,240.31 325.44,240.27 326.24,240.46 327.61,241.21 332.15,244.44 333.67,245.17 335.18,245.61 336.63,245.73 338.07,245.57 339.58,245.12 341.10,244.39 342.90,243.21 344.78,241.64 346.80,239.64 348.96,237.20 352.86,232.27 363.61,217.74 366.93,213.61 370.10,209.95 373.21,206.69 376.38,203.66 379.56,200.94 382.88,198.39 387.42,195.37 392.18,192.69 397.09,190.41 402.14,188.53 407.26,187.06 412.53,185.99 417.80,185.35 423.06,185.14 428.40,185.35 433.67,185.99 438.94,187.06 444.06,188.53 449.11,190.41 454.02,192.69 458.78,195.37 463.32,198.39 466.64,200.94 469.82,203.66 472.99,206.69 476.10,209.95 479.27,213.61 482.59,217.74 493.34,232.27 497.24,237.20 499.40,239.64 501.42,241.64 503.30,243.21 505.10,244.39 506.62,245.12 508.13,245.57 509.57,245.73 511.02,245.61 512.53,245.17 514.05,244.44 518.59,241.21 519.96,240.46 520.76,240.27 521.48,240.31 522.13,240.59 522.78,241.15 523.86,242.81 524.87,245.33 525.88,248.92 526.89,253.57 528.62,263.72 533.10,293.87 534.45,301.58 535.80,308.10" fill="none" stroke="#8aaf2c" stroke-width="1.75" stroke-linejoin="round"/>
<polyline clip-path="url(#clipd)" points="310.40,308.10 313.10,303.54 316.06,298.17 325.73,279.42 329.63,272.12 333.45,265.43 337.20,259.41 342.11,252.37 347.16,246.04 352.57,240.17 358.27,234.83 361.73,231.95 365.34,229.21 369.02,226.66 372.77,224.29 376.67,222.06 380.64,220.01 384.68,218.16 388.79,216.48 392.98,215.00 397.16,213.72 401.42,212.63 405.68,211.74 410.00,211.03 414.33,210.53 418.66,210.23 423.06,210.13 427.47,210.23 431.79,210.53 436.12,211.02 440.45,211.72 444.78,212.63 449.04,213.72 453.22,215.00 457.41,216.48 461.52,218.16 465.56,220.01 469.53,222.06 473.43,224.29 477.18,226.66 480.86,229.21 484.47,231.95 487.93,234.83 493.63,240.17 499.04,246.04 504.09,252.37 509.00,259.41 512.75,265.43 516.57,272.12 520.47,279.42 530.14,298.17 533.10,303.54 535.80,308.10" fill="none" stroke="#ec5a2d" stroke-width="1.75" stroke-linejoin="round"/>
<rect x="306.0" y="163.8" width="234.30" height="151.60" fill="none" stroke="#000" stroke-width="1.5"/>
<path d="M310.40,315.4v-2.8M310.40,163.8v2.8M321.67,315.4v-1.4M321.67,163.8v1.4M332.94,315.4v-1.4M332.94,163.8v1.4M344.21,315.4v-1.4M344.21,163.8v1.4M355.48,315.4v-2.8M355.48,163.8v2.8M366.75,315.4v-1.4M366.75,163.8v1.4M378.02,315.4v-1.4M378.02,163.8v1.4M389.29,315.4v-1.4M389.29,163.8v1.4M400.56,315.4v-2.8M400.56,163.8v2.8M411.83,315.4v-1.4M411.83,163.8v1.4M423.10,315.4v-1.4M423.10,163.8v1.4M434.37,315.4v-1.4M434.37,163.8v1.4M445.64,315.4v-2.8M445.64,163.8v2.8M456.91,315.4v-1.4M456.91,163.8v1.4M468.18,315.4v-1.4M468.18,163.8v1.4M479.45,315.4v-1.4M479.45,163.8v1.4M490.72,315.4v-2.8M490.72,163.8v2.8M501.99,315.4v-1.4M501.99,163.8v1.4M513.26,315.4v-1.4M513.26,163.8v1.4M524.53,315.4v-1.4M524.53,163.8v1.4M535.80,315.4v-2.8M535.80,163.8v2.8M306.0,313.29h1.4M540.3,313.29h-1.4M306.0,308.10h2.8M540.3,308.10h-2.8M306.0,302.91h1.4M540.3,302.91h-1.4M306.0,297.72h1.4M540.3,297.72h-1.4M306.0,292.52h1.4M540.3,292.52h-1.4M306.0,287.33h1.4M540.3,287.33h-1.4M306.0,282.14h2.8M540.3,282.14h-2.8M306.0,276.95h1.4M540.3,276.95h-1.4M306.0,271.76h1.4M540.3,271.76h-1.4M306.0,266.56h1.4M540.3,266.56h-1.4M306.0,261.37h1.4M540.3,261.37h-1.4M306.0,256.18h2.8M540.3,256.18h-2.8M306.0,250.99h1.4M540.3,250.99h-1.4M306.0,245.80h1.4M540.3,245.80h-1.4M306.0,240.60h1.4M540.3,240.60h-1.4M306.0,235.41h1.4M540.3,235.41h-1.4M306.0,230.22h2.8M540.3,230.22h-2.8M306.0,225.03h1.4M540.3,225.03h-1.4M306.0,219.84h1.4M540.3,219.84h-1.4M306.0,214.64h1.4M540.3,214.64h-1.4M306.0,209.45h1.4M540.3,209.45h-1.4M306.0,204.26h2.8M540.3,204.26h-2.8M306.0,199.07h1.4M540.3,199.07h-1.4M306.0,193.88h1.4M540.3,193.88h-1.4M306.0,188.68h1.4M540.3,188.68h-1.4M306.0,183.49h1.4M540.3,183.49h-1.4M306.0,178.30h2.8M540.3,178.30h-2.8M306.0,173.11h1.4M540.3,173.11h-1.4M306.0,167.92h1.4M540.3,167.92h-1.4" stroke="#000" stroke-width="1.1" fill="none"/>
<text x="303.20" y="313.10" class="tl" text-anchor="end">1</text>
<text x="303.20" y="287.14" class="tl" text-anchor="end">2</text>
<text x="303.20" y="261.18" class="tl" text-anchor="end">3</text>
<text x="303.20" y="235.22" class="tl" text-anchor="end">4</text>
<text x="303.20" y="209.26" class="tl" text-anchor="end">5</text>
<text x="303.20" y="183.30" class="tl" text-anchor="end">6</text>
<text x="310.40" y="330.9" class="tl" text-anchor="middle">0.0</text>
<text x="355.48" y="330.9" class="tl" text-anchor="middle">0.2</text>
<text x="400.56" y="330.9" class="tl" text-anchor="middle">0.4</text>
<text x="445.64" y="330.9" class="tl" text-anchor="middle">0.6</text>
<text x="490.72" y="330.9" class="tl" text-anchor="middle">0.8</text>
<text x="533.00" y="330.9" class="tl" text-anchor="middle">1.0</text>
<polyline points="64.3,43.7 130.5,43.7" fill="none" stroke="#4f4f4f" stroke-width="1.15"/>
<text x="84.5" y="39.90" class="cl" textLength="45.7" lengthAdjust="spacingAndGlyphs">(10,10)</text>
<polyline points="61.7,73.6 112.7,73.6" fill="none" stroke="#4f4f4f" stroke-width="1.15"/>
<text x="78.5" y="69.90" class="cl" textLength="29.7" lengthAdjust="spacingAndGlyphs">(3,3)</text>
<polyline points="59.5,130.2 64.3,145.0 104.2,145.0" fill="none" stroke="#4f4f4f" stroke-width="1.15"/>
<text x="67.9" y="141.90" class="cl" textLength="29.3" lengthAdjust="spacingAndGlyphs">(1,1)</text>
<polyline points="162.4,103.6 177.6,136.8 213.3,136.8" fill="none" stroke="#4f4f4f" stroke-width="1.15"/>
<text x="179.3" y="134.00" class="cl" textLength="31.0" lengthAdjust="spacingAndGlyphs">(2,2)</text>
<polyline points="65.8,222.6 130.9,222.6" fill="none" stroke="#4f4f4f" stroke-width="1.15"/>
<text x="85.3" y="217.90" class="cl" textLength="45.4" lengthAdjust="spacingAndGlyphs">(10,10)</text>
<polyline points="62.0,266.7 112.7,266.7" fill="none" stroke="#4f4f4f" stroke-width="1.15"/>
<text x="79.4" y="263.30" class="cl" textLength="28.8" lengthAdjust="spacingAndGlyphs">(3,3)</text>
<polyline points="73.8,293.3 78.9,309.4 119.6,309.4" fill="none" stroke="#4f4f4f" stroke-width="1.15"/>
<text x="82.8" y="305.00" class="cl" textLength="29.5" lengthAdjust="spacingAndGlyphs">(1,1)</text>
<polyline points="192.1,274.7 207.5,309.4 243.0,309.4" fill="none" stroke="#4f4f4f" stroke-width="1.15"/>
<text x="209.8" y="305.00" class="cl" textLength="28.3" lengthAdjust="spacingAndGlyphs">(2,2)</text>
<polyline points="336.1,61.8 347.6,86.4 389.1,86.4" fill="none" stroke="#4f4f4f" stroke-width="1.15"/>
<text x="352.4" y="82.70" class="cl" textLength="29.5" lengthAdjust="spacingAndGlyphs">(1,6)</text>
<polyline points="321.1,108.8 331.0,129.6 373.6,129.6" fill="none" stroke="#4f4f4f" stroke-width="1.15"/>
<text x="334.8" y="126.00" class="cl" textLength="29.2" lengthAdjust="spacingAndGlyphs">(0,7)</text>
<polyline points="476.0,27.3 468.4,73.4 429.0,73.4" fill="none" stroke="#4f4f4f" stroke-width="1.15"/>
<text x="434.1" y="69.70" class="cl" textLength="29.6" lengthAdjust="spacingAndGlyphs">(4,3)</text>
<polyline points="510.8,52.0 503.8,111.2 465.8,111.2" fill="none" stroke="#4f4f4f" stroke-width="1.15"/>
<text x="469.3" y="106.80" class="cl" textLength="29.9" lengthAdjust="spacingAndGlyphs">(2,5)</text>
<polyline points="336.9,247.7 349.1,271.6 389.6,271.6" fill="none" stroke="#4f4f4f" stroke-width="1.15"/>
<text x="352.3" y="267.60" class="cl" textLength="29.9" lengthAdjust="spacingAndGlyphs">(1,6)</text>
<polyline points="326.6,280.3 336.4,302.7 378.6,302.7" fill="none" stroke="#4f4f4f" stroke-width="1.15"/>
<text x="338.8" y="298.30" class="cl" textLength="30.2" lengthAdjust="spacingAndGlyphs">(0,7)</text>
<polyline points="483.2,196.6 475.9,242.2 436.5,242.2" fill="none" stroke="#4f4f4f" stroke-width="1.15"/>
<text x="440.9" y="238.60" class="cl" textLength="29.6" lengthAdjust="spacingAndGlyphs">(4,3)</text>
<polyline points="511.1,225.7 503.3,283.3 464.3,283.3" fill="none" stroke="#4f4f4f" stroke-width="1.15"/>
<text x="468.5" y="279.30" class="cl" textLength="29.8" lengthAdjust="spacingAndGlyphs">(2,5)</text>
<text x="256.5" y="30.2" class="pl">a</text>
<text transform="translate(520.3,33.6) scale(1,1.07)" class="pl">b</text>
<text transform="translate(255.0,184.7) scale(1.03,1.06)" class="pl">c</text>
<text transform="translate(518.0,188) scale(1.02,1.02)" class="pl">d</text>
<text x="472.8" y="154.6" class="ss" textLength="49.5" lengthAdjust="spacingAndGlyphs">S<tspan class="sub">1</tspan>+S<tspan class="sub">2</tspan>=7</text>
<text x="470.8" y="307.4" class="ss" textLength="49.5" lengthAdjust="spacingAndGlyphs">S<tspan class="sub">1</tspan>+S<tspan class="sub">2</tspan>=7</text>
<text x="159.8" y="342.4" class="tl" text-anchor="middle">R</text>
<text x="423.3" y="340.4" class="tl" text-anchor="middle">R</text>
<text transform="translate(18.1,88.5) rotate(-90)" class="tl yl" text-anchor="middle"><tspan font-size="15.8">S</tspan><tspan class="subs" dy="1.9" dx="0.8">N</tspan><tspan dy="-1.9" dx="0.6">(R)</tspan></text>
<text transform="translate(25.6,240.2) rotate(-90)" class="kl" text-anchor="middle" textLength="37.5" lengthAdjust="spacingAndGlyphs">K(R)</text>
</svg>
</body></html>
